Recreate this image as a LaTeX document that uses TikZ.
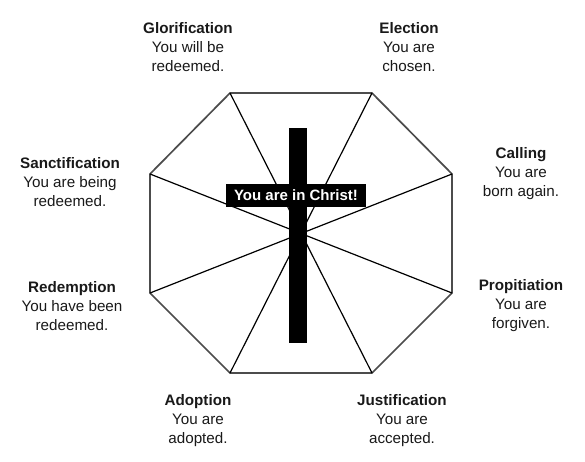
\documentclass[tikz,border=0pt]{standalone}
\usepackage{fontspec}
\setmainfont{Liberation Sans}
\begin{document}
\begin{tikzpicture}[x=1pt,y=-1pt,
  lbl/.style={align=center,font=\fontsize{15.2}{19}\selectfont,inner sep=0pt,text=black!90},
  octo/.style={draw=black!70,line width=1.7pt,line join=miter},
  spoke/.style={draw=black,line width=1.2pt},
  barbox/.style={fill=black,draw=none}]
\useasboundingbox (0,0) rectangle (585,461);
% octagon vertices
\coordinate (A) at (230,93);
\coordinate (B) at (372,93);
\coordinate (C) at (452,174);
\coordinate (D) at (452,293);
\coordinate (E) at (372,373);
\coordinate (F) at (230,373);
\coordinate (G) at (150,293);
\coordinate (H) at (150,174);
\draw[octo] (A) -- (B) -- (C) -- (D) -- (E) -- (F) -- (G) -- (H) -- cycle;
\draw[spoke] (A) -- (E);
\draw[spoke] (B) -- (F);
\draw[spoke] (C) -- (G);
\draw[spoke] (D) -- (H);
% cross
\fill[barbox] (289,128) rectangle (307,343);
\node[fill=black,text=white,font=\bfseries\fontsize{15}{18}\selectfont,
  minimum width=140pt,minimum height=23pt,inner sep=0pt] (christ) at (296,195) {You are in Christ!};
% labels
\node[lbl] (glor) at (188,47) {\textbf{Glorification}\\You will be\\redeemed.};
\node[lbl] (elec) at (409,47) {\textbf{Election}\\You are\\chosen.};
\node[lbl] (call) at (521,174) {\textbf{Calling}\\You are\\born again.};
\node[lbl] (prop) at (521,306) {\textbf{Propitiation}\\You are\\forgiven.};
\node[lbl] (just) at (402,421) {\textbf{Justification}\\You are\\accepted.};
\node[lbl] (adop) at (198,421) {\textbf{Adoption}\\You are\\adopted.};
\node[lbl] (rede) at (72,306) {\textbf{Redemption}\\You have been\\redeemed.};
\node[lbl] (sanc) at (70,182) {\textbf{Sanctification}\\You are being\\redeemed.};
\end{tikzpicture}
\end{document}
